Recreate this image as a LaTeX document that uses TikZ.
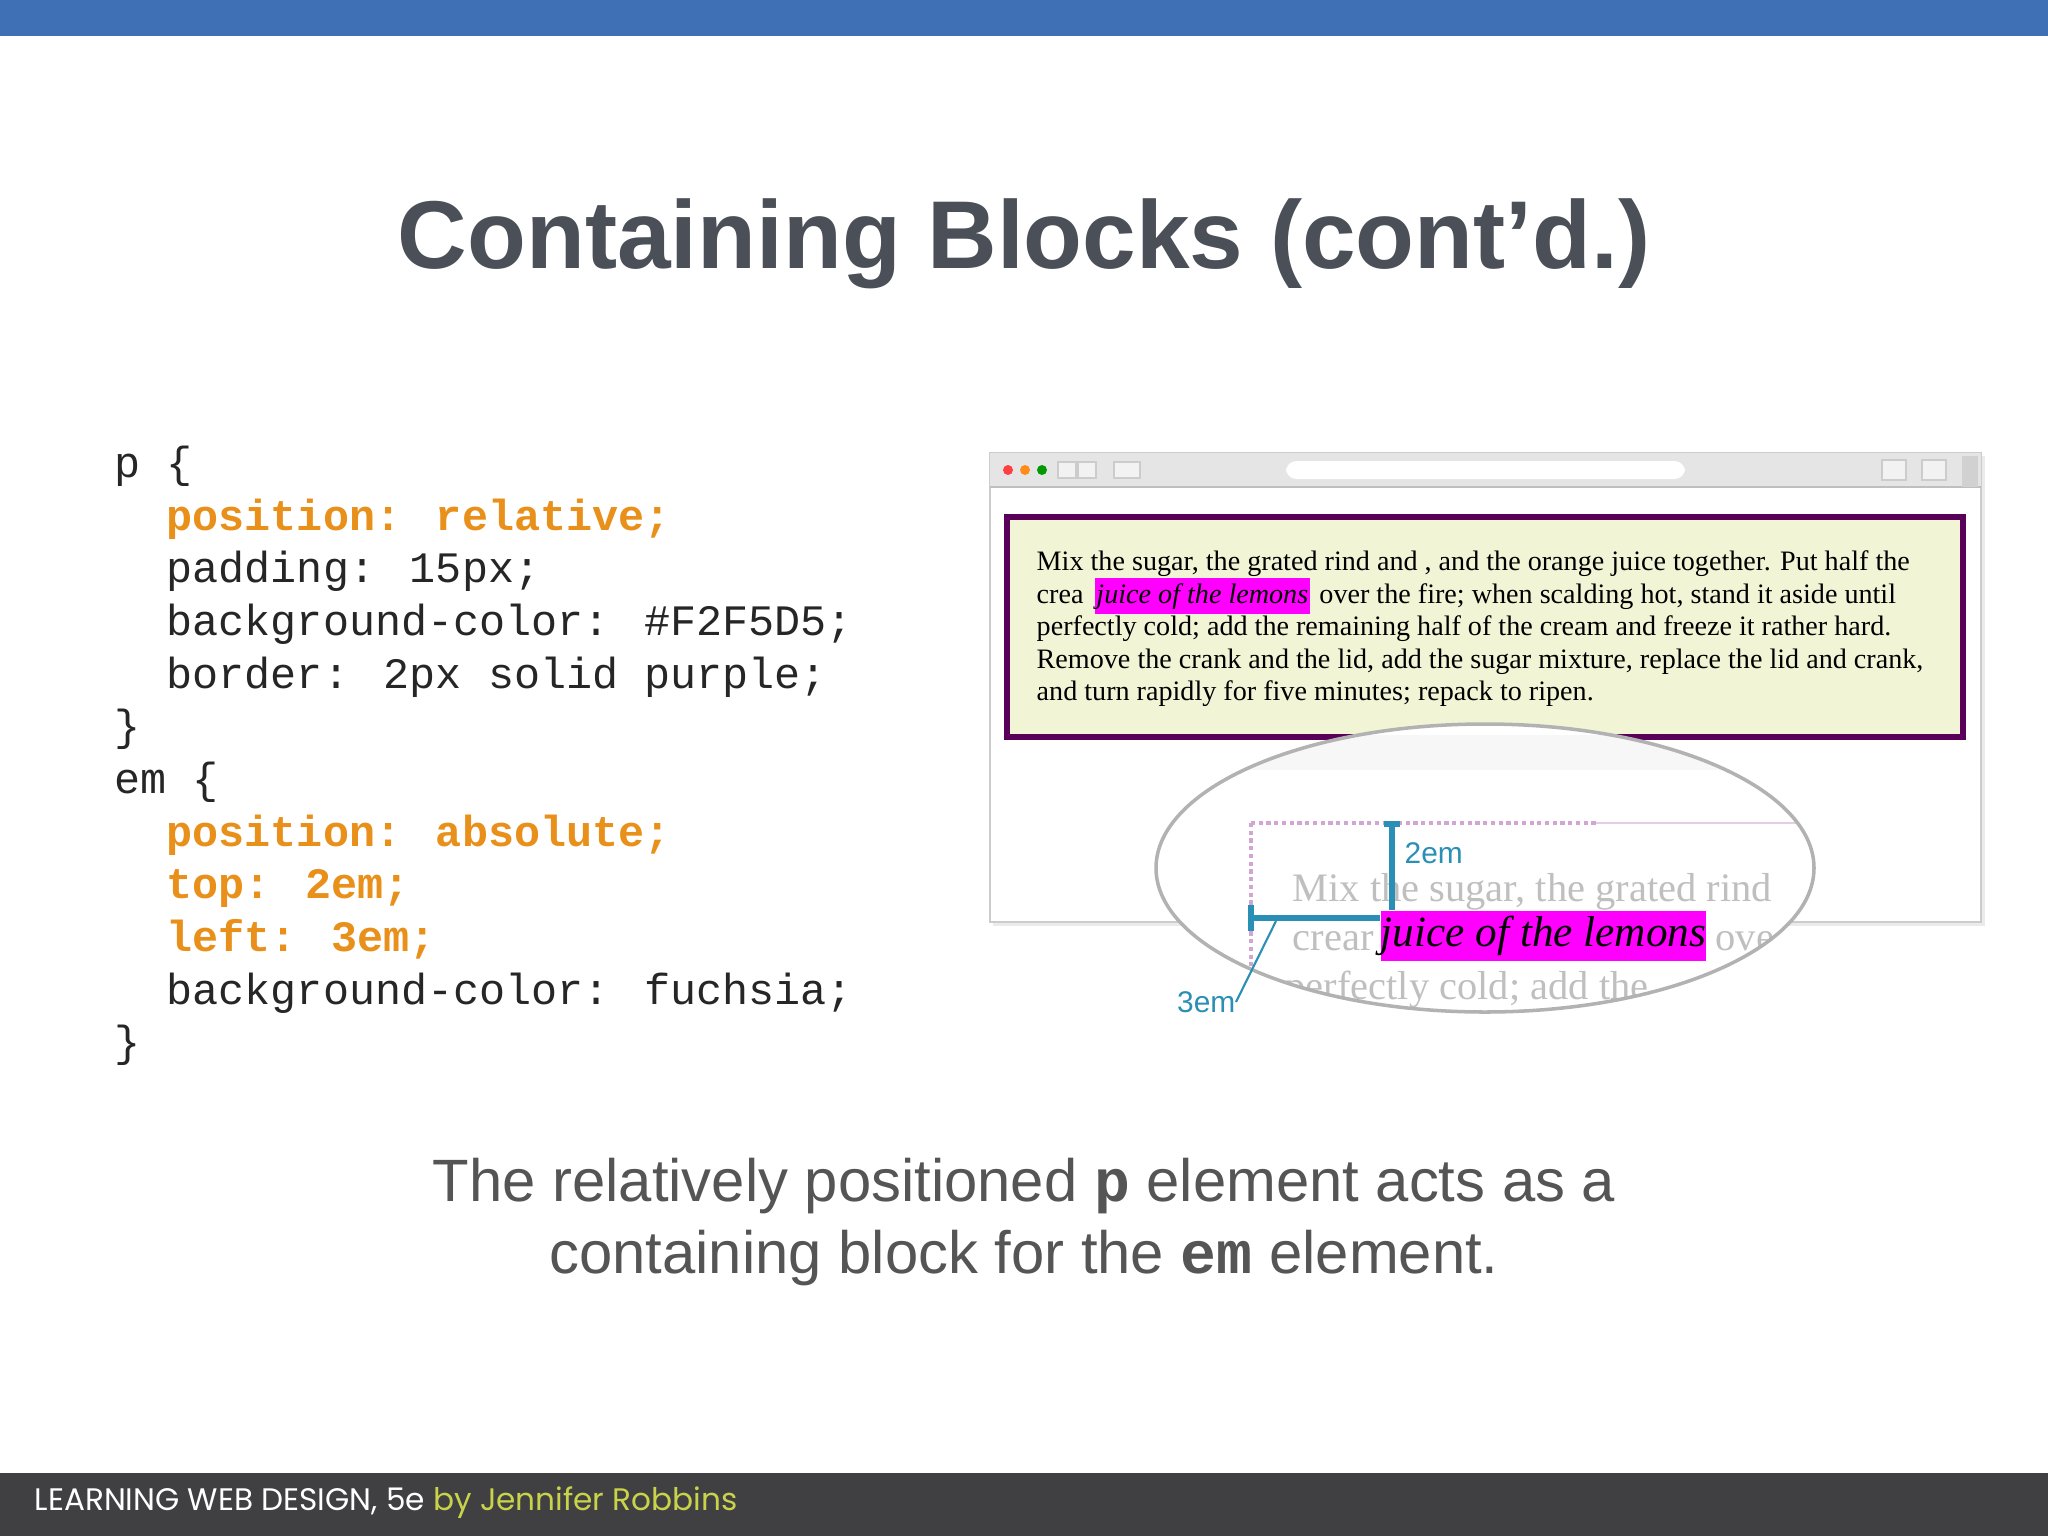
\documentclass[tikz,border=0pt]{standalone}
\usepackage{fontspec}
\setmainfont{Liberation Sans}
\newfontfamily\monof{Liberation Mono}
\newfontfamily\serf{Liberation Serif}
\newfontfamily\footf{Poppins}
\definecolor{topblue}{HTML}{3F70B6}
\definecolor{titlegray}{HTML}{4A4F58}
\definecolor{codeor}{HTML}{E8901A}
\definecolor{pyellow}{HTML}{F2F5D5}
\definecolor{teal}{HTML}{2A8FB5}
\definecolor{footbg}{HTML}{404043}
\definecolor{footyel}{HTML}{C8D34A}
\definecolor{capgray}{HTML}{555555}
\definecolor{fuchsia}{HTML}{FF00FF}
\tikzset{
 code/.style={anchor=base west,inner sep=0,font=\monof\fontsize{12.35}{14}\selectfont,text=black!85},
 codeo/.style={code,font=\monof\bfseries\fontsize{12.35}{14}\selectfont,text=codeor},
 ptxt/.style={anchor=base west,inner sep=0,font=\serf\fontsize{8}{9}\selectfont},
 big/.style={anchor=base west,inner sep=0,font=\serf\fontsize{11.5}{13}\selectfont,text=black!25},
 lab/.style={inner sep=0,font=\fontsize{8.5}{10}\selectfont,text=teal},
}
\begin{document}
\begin{tikzpicture}[x=0.01cm,y=-0.01cm]
\useasboundingbox (0,0) rectangle (2048,1536);
\fill[white] (0,0) rectangle (2048,1536);
\fill[topblue] (0,0) rectangle (2048,36);
\node[font=\bfseries\fontsize{27.4}{32}\selectfont,text=titlegray] (title) at (1024,244) {Containing Blocks (cont’d.)};
% code
\node[code] (c1) at (114,477) {p \{};
\node[codeo] (c2) at (166,530) {position: relative;};
\node[code] (c3) at (166,582) {padding: 15px;};
\node[code] (c4) at (166,635) {background-color: \#F2F5D5;};
\node[code] (c5) at (166,688) {border: 2px solid purple;};
\node[code] (c6) at (114,740) {\}};
\node[code] (c7) at (114,793) {em \{};
\node[codeo] (c8) at (166,846) {position: absolute;};
\node[codeo] (c9) at (166,898) {top: 2em;};
\node[codeo] (c10) at (166,951) {left: 3em;};
\node[code] (c11) at (166,1004) {background-color: fuchsia;};
\node[code] (c12) at (114,1056) {\}};
% browser window
\fill[black!8] (993,456) rectangle (1985,926);
\draw[black!20,fill=white] (990,453) rectangle (1981,922);
\fill[black!10] (990,453) rectangle (1981,487);
\draw[black!25] (990,487) -- (1981,487);
\fill[red!75] (1008,470) circle (5);
\fill[orange!90] (1025,470) circle (5);
\fill[green!60!black] (1042,470) circle (5);
\draw[black!20,fill=black!5] (1058,462) rectangle (1076,478);
\draw[black!20,fill=black!5] (1078,462) rectangle (1096,478);
\draw[black!20,fill=black!5] (1114,462) rectangle (1140,478);
\fill[white,rounded corners=3] (1286,461) rectangle (1685,479);
\draw[black!20,fill=black!5] (1882,460) rectangle (1906,480);
\draw[black!20,fill=black!5] (1922,460) rectangle (1946,480);
\fill[black!18] (1962,456) rectangle (1978,487);
% p box
\draw[fill=pyellow,draw=violet!70!black,line width=1.5] (1007,517) rectangle (1963,737);
\node[ptxt] (l1) at (1036,570) {Mix the sugar, the grated rind and , and the orange juice together. Put half the};
\node[ptxt] (l2) at (1036,603) {crea\phantom{juice of the lemonsx} over the fire; when scalding hot, stand it aside until};
\node[ptxt] (l3) at (1036,635) {perfectly cold; add the remaining half of the cream and freeze it rather hard.};
\node[ptxt] (l4) at (1036,668) {Remove the crank and the lid, add the sugar mixture, replace the lid and crank,};
\node[ptxt] (l5) at (1036,700) {and turn rapidly for five minutes; repack to ripen.};
\node[fill=fuchsia,inner xsep=0.5pt,inner ysep=1.5pt,anchor=base west,font=\serf\itshape\fontsize{8}{9}\selectfont] (em1) at (1094,603) {juice of the lemons};
% magnifier
\fill[white] (1485,868) ellipse (329 and 144);
\begin{scope}
\clip (1485,868) ellipse (329 and 144);
\fill[black!3] (1100,735) rectangle (1900,770);
\draw[violet!35,densely dotted,line width=1.2pt] (1251,823) -- (1596,823);
\draw[violet!20,line width=0.8pt] (1596,823) -- (1850,823);
\draw[violet!35,densely dotted,line width=1.2pt] (1251,823) -- (1251,1000);
\node[big] (g1) at (1292,901) {Mix the sugar, the grated rind};
\node[big] (g2) at (1292,950) {crear};
\node[big] (g3) at (1715,950) {ove};
\node[big] (g4) at (1285,999) {perfectly cold; add the};
\end{scope}
\node[fill=fuchsia,inner sep=0,anchor=north west,font=\serf\itshape\fontsize{12.3}{14}\selectfont,minimum height=0.5cm,minimum width=3.2cm] (em2) at (1380,910) {juice of the lemons};
\draw[black!30,line width=1pt] (1485,868) ellipse (329 and 144);
\coordinate (t0) at (1392,823);
\coordinate (l0) at (1251,918);
\draw[teal,line width=1.5pt] (t0) -- (em2.north west -| t0);
\draw[teal,line width=1.5pt] (l0) -- (em2.west |- l0);
\fill[teal] (1384,821) rectangle (1400,827);
\draw[teal,line width=1.5pt] (1251,905) -- (1251,931);
\node[lab,anchor=west] (e2) at (1404,853) {2em};
\node[lab,anchor=east] (e3) at (1236,1002) {3em};
\coordinate (lp) at (1276,921);
\draw[teal,line width=0.6pt] (e3.east) -- (lp);
% caption
\node[font=\fontsize{17}{20}\selectfont,text=capgray] (cap1) at (1024,1186) {The relatively positioned {\monof\bfseries p} element acts as a};
\node[font=\fontsize{17}{20}\selectfont,text=capgray] (cap2) at (1024,1258) {containing block for the {\monof\bfseries em} element.};
% footer
\fill[footbg] (0,1473) rectangle (2048,1536);
\node[anchor=west,inner sep=0,font=\footf\fontsize{8.85}{10}\selectfont,text=white] (f1) at (34,1503) {LEARNING WEB DESIGN, 5e \textcolor{footyel}{by Jennifer Robbins}};
\end{tikzpicture}
\end{document}
